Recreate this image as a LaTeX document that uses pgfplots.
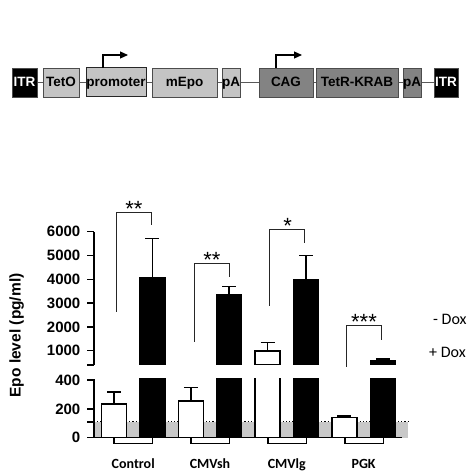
\documentclass[border=0pt]{standalone}
\usepackage{fontspec}
\setmainfont{Liberation Sans}
\newfontfamily\calibri{Carlito}
\usepackage{pgfplots}
\pgfplotsset{compat=1.18}
\usetikzlibrary{arrows.meta}
\definecolor{lightbox}{HTML}{C4C4C4}
\definecolor{darkbox}{HTML}{838383}
\definecolor{bandgray}{HTML}{C8C8C8}

\pgfplotsset{brk/.style={
  scale only axis, width=308pt, xmin=-0.521, xmax=7.5,
  axis y line*=left, scaled y ticks=false,
  /pgf/number format/assume math mode=true,
  tick align=outside, major tick length=6.5pt,
  every tick/.style={line width=1.5pt, black},
  axis line style={line width=1.5pt},
  yticklabel style={font=\fontsize{15}{17}\selectfont\bfseries, anchor=east, inner sep=0pt, xshift=-7pt},
  ybar, bar width=25pt, bar shift=0pt,
  error bars/y dir=plus, error bars/y explicit,
  error bars/error bar style={line width=1.5pt, black},
  error bars/error mark options={rotate=90, mark size=7pt, line width=1.5pt, black}
}}

\begin{document}
\begin{tikzpicture}
\useasboundingbox (0,0) rectangle (474pt,474pt);
\begin{scope}[x=1pt,y=-1pt,shift={(0,474pt)}]
  % construct diagram
  \draw[line width=0.8pt, black!65] (12,82) -- (458,82);
  \tikzset{bx/.style={line width=0.8pt, draw=black!70}}
  \filldraw[bx, fill=black] (12,68) rectangle (37,97);
  \filldraw[bx, fill=lightbox] (43,68) rectangle (79,97);
  \filldraw[line width=1pt, draw=black!85, fill=lightbox] (86,68) rectangle (146,97);
  \filldraw[bx, fill=lightbox] (152,68) rectangle (217,97);
  \filldraw[bx, fill=lightbox] (222,68) rectangle (240,97);
  \filldraw[bx, fill=darkbox] (259,68) rectangle (313,97);
  \filldraw[bx, fill=darkbox] (316,68) rectangle (398,97);
  \filldraw[bx, fill=darkbox] (403,68) rectangle (421,97);
  \filldraw[bx, fill=black] (434,68) rectangle (458,97);
  \tikzset{bt/.style={anchor=base, inner sep=0pt, font=\fontsize{13.5}{15}\selectfont\bfseries}}
  \node[bt, text=white] at (24.5,87) {ITR};
  \node[bt] at (61,87) {TetO};
  \node[bt] at (116,87) {promoter};
  \node[bt] at (184.5,87) {mEpo};
  \node[bt] at (231,87) {pA};
  \node[bt] at (286,87) {CAG};
  \node[bt] at (357,87) {TetR-KRAB};
  \node[bt] at (412,87) {pA};
  \node[bt, text=white] at (446,87) {ITR};
  \draw[line width=1.1pt, -{Triangle[length=8pt,width=7pt]}] (103,68) -- (103,55) -- (128,55);
  \draw[line width=1.1pt, -{Triangle[length=8pt,width=7pt]}] (276,68) -- (276,55) -- (302,55);
  % detection band
  \fill[bandgray] (94,421.9) rectangle (408,437.7);
  \draw[line width=1.2pt, dotted] (94,421.9) -- (408,421.9);
\end{scope}

% upper segment
\begin{axis}[brk, at={(94pt,109pt)}, anchor=south west, height=133.3pt,
  ymin=400, ymax=6000, axis x line=none,
  ytick={400,1000,2000,3000,4000,5000,6000},
  yticklabels={,1000,2000,3000,4000,5000,6000}]
\addplot[fill=white, draw=black, line width=1.5pt] coordinates {(4,990) +- (0,363)};
\addplot[fill=black, draw=black, line width=1.5pt] coordinates {
  (1,4084) +- (0,1639)
  (3,3340) +- (0,350)
  (5,4000) +- (0,1000)
  (7,567) +- (0,83)};
\end{axis}

% lower segment
\begin{axis}[brk, at={(94pt,36.3pt)}, anchor=south west, height=59.0pt,
  ymin=0, ymax=410, axis x line*=bottom,
  ytick={0,110,200,400}, yticklabels={0,,200,400},
  xtick={0.5,2.5,4.5,6.5}, xticklabels={Control,CMVsh,CMVlg,PGK},
  x tick style={draw=none},
  xticklabel style={font=\calibri\fontsize{14}{16}\selectfont\bfseries, anchor=base, yshift=-24pt}]
\addplot[fill=black, draw=black, line width=1.5pt] coordinates {(1,4084) (3,3340) (5,4000) (7,567)};
\addplot[fill=white, draw=black, line width=1.5pt] coordinates {(4,990)};
\addplot[fill=white, draw=black, line width=1.5pt] coordinates {
  (0,234) +- (0,83)
  (2,255) +- (0,95)
  (6,139) +- (0,12)};
\end{axis}

\begin{scope}[x=1pt,y=-1pt,shift={(0,474pt)}]
  % brackets under pairs
  \foreach \a in {114,191,268,345}{
    \draw[line width=1.8pt] (\a,437.7) -- (\a,443.5) -- (\a+38.4,443.5) -- (\a+38.4,437.7);
  }
  % significance brackets
  \tikzset{sg/.style={line width=1pt, black!85}, st/.style={font=\fontsize{22}{22}\selectfont, inner sep=0pt, anchor=center}}
  \draw[sg] (116,311.7) -- (116,212.7) -- (151.7,212.7) -- (151.7,225);
  \node[st] at (134,209) {**};
  \draw[sg] (194.3,341.7) -- (194.3,264) -- (229.3,264) -- (229.3,277.3);
  \node[st] at (212,259.5) {**};
  \draw[sg] (269.3,306) -- (269.3,229.3) -- (304.3,229.3) -- (304.3,243.3);
  \node[st] at (287.7,226) {*};
  \draw[sg] (346.7,366.7) -- (346.7,326) -- (381,326) -- (381,340);
  \node[st] at (364,322) {***};
  % legend text
  \node[anchor=west, inner sep=0pt, font=\calibri\fontsize{16}{18}\selectfont] at (433,319) {- Dox};
  \node[anchor=west, inner sep=0pt, font=\calibri\fontsize{16}{18}\selectfont] at (429,352) {+ Dox};
  % y label
  \node[rotate=90, anchor=base, inner sep=0pt, font=\fontsize{15.5}{17}\selectfont\bfseries] at (20.7,335.5) {Epo level (pg/ml)};
\end{scope}
\end{tikzpicture}
\end{document}
